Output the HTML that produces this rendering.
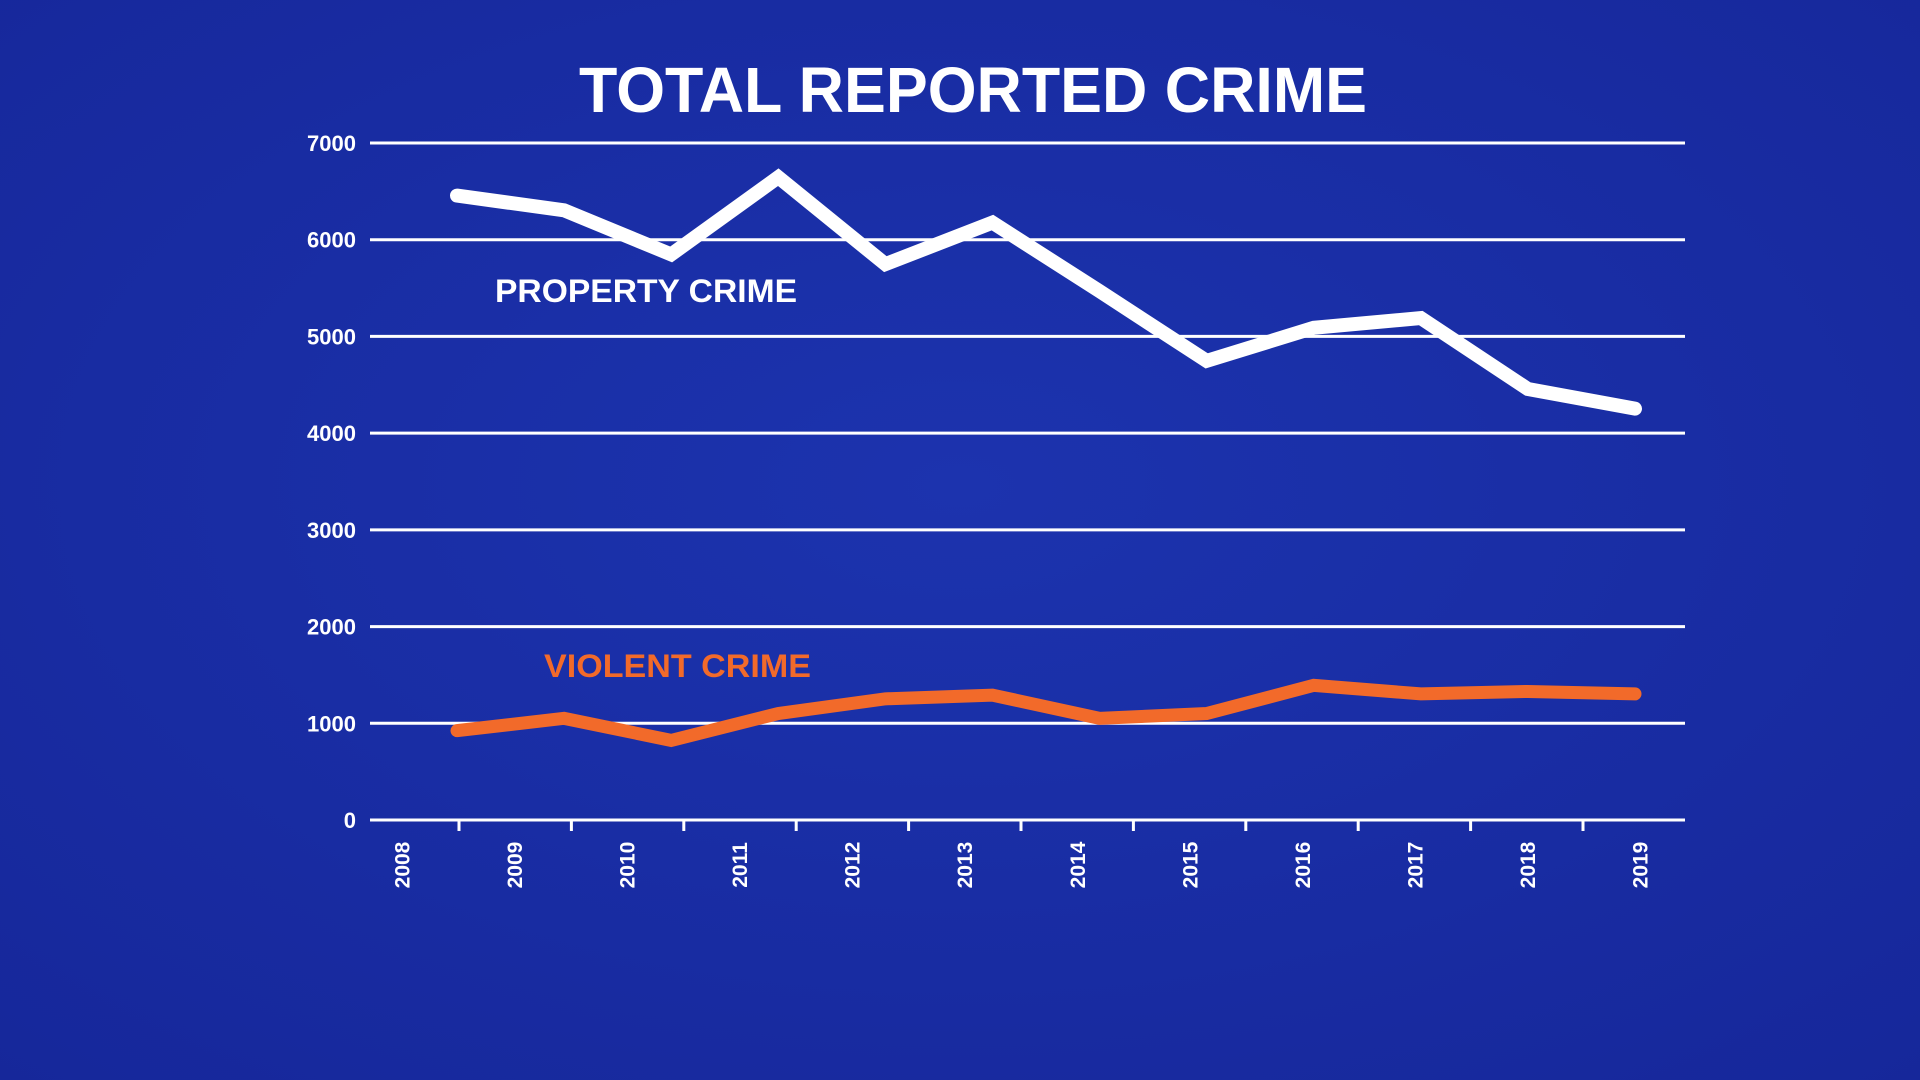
<!DOCTYPE html>
<html><head><meta charset="utf-8"><style>
html,body{margin:0;padding:0;width:1920px;height:1080px;overflow:hidden;background:#1a2ca4;}
svg{display:block;}
</style></head><body>
<svg id="chart" width="1920" height="1080" xmlns="http://www.w3.org/2000/svg">
<defs>
<radialGradient id="bg" cx="50%" cy="45%" r="75%">
<stop offset="0%" stop-color="#1c33ae"/><stop offset="100%" stop-color="#16279a"/>
</radialGradient>
</defs>
<rect width="1920" height="1080" fill="url(#bg)"/>
<text x="973" y="112" text-anchor="middle" font-family="Liberation Sans, sans-serif" font-weight="bold" font-size="64" fill="#fff" textLength="788" lengthAdjust="spacingAndGlyphs">TOTAL REPORTED CRIME</text>
<g id="grid"></g><g id="yl"></g><g id="xl"></g><g id="lines"></g>
<text x="495" y="302" font-family="Liberation Sans, sans-serif" font-weight="bold" font-size="32" fill="#fff" textLength="302" lengthAdjust="spacingAndGlyphs">PROPERTY CRIME</text>
<text x="544" y="677" font-family="Liberation Sans, sans-serif" font-weight="bold" font-size="32" fill="#f26a2a" textLength="267" lengthAdjust="spacingAndGlyphs">VIOLENT CRIME</text>
</svg>
<script>
const years=["2008","2009","2010","2011","2012","2013","2014","2015","2016","2017","2018","2019"];
const property=[6456,6304,5848,6646,5747,6177,5468,4747,5089,5190,4456,4253];
const violent=[924,1051,823,1101,1253,1291,1051,1101,1392,1304,1329,1304];
const yTicks=[0,1000,2000,3000,4000,5000,6000,7000];
const NS="http://www.w3.org/2000/svg";
const y0=820,yTop=143,yMax=7000;
function yS(v){return y0-(v/yMax)*(y0-yTop);}
function xS(i){return 457+i*(1635-457)/(years.length-1);}
function xLab(i){return 403+i*(1641-403)/(years.length-1);}
function mk(t,a,p){const e=document.createElementNS(NS,t);for(const k in a)e.setAttribute(k,a[k]);p.appendChild(e);return e;}
const grid=document.getElementById('grid'),yl=document.getElementById('yl'),xl=document.getElementById('xl'),lines=document.getElementById('lines');
yTicks.forEach(v=>{
 const l=mk('line',{x1:370,x2:1685,y1:yS(v),y2:yS(v),stroke:'#fff','stroke-width':3},grid);
 
 
 const t=mk('text',{x:356,y:yS(v)+8,'text-anchor':'end','font-family':'Liberation Sans, sans-serif','font-weight':'bold','font-size':22,fill:'#fff'},yl);
 t.textContent=v;
 
 
});
for(let i=0;i<years.length-1;i++){
 const x=459+i*(1583-459)/(years.length-2);
 const tk=mk('line',{x1:x,x2:x,y1:y0,y2:y0+11,stroke:'#fff','stroke-width':3},grid);
 
 
}
years.forEach((yr,i)=>{
 const x=xLab(i),y=865;
 const t=mk('text',{x:x,y:y,transform:`rotate(-90 ${x} ${y})`,'text-anchor':'middle','dominant-baseline':'central','font-family':'Liberation Sans, sans-serif','font-weight':'bold','font-size':21,fill:'#fff'},xl);
 t.textContent=yr;
 
 
});
function pts(arr){return arr.map((v,i)=>xS(i)+','+yS(v)).join(' ');}
const pv=mk('polyline',{points:pts(violent),fill:'none',stroke:'#f26a2a','stroke-width':13,'stroke-linejoin':'miter','stroke-linecap':'round'},lines);


const pp=mk('polyline',{points:pts(property),fill:'none',stroke:'#fff','stroke-width':14,'stroke-linejoin':'miter','stroke-linecap':'round'},lines);


</script>
</body></html>
